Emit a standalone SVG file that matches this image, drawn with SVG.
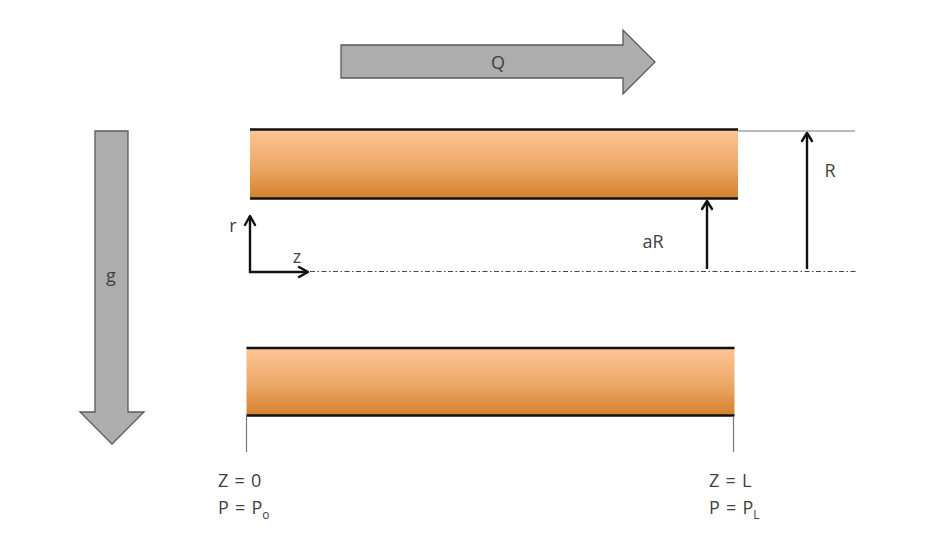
<svg xmlns="http://www.w3.org/2000/svg" width="942" height="548" viewBox="0 0 942 548">
<style>
text{font-family:"Open Sans","Noto Sans","Liberation Sans",sans-serif;font-size:18px;fill:#404040;word-spacing:1.5px}
.sub{font-size:12px}
.block{fill:#adadad;stroke:#595959;stroke-width:1.3}
.pipe{fill:url(#pipeFill)}
.wall{stroke:#111;stroke-width:2.4;fill:none}
.thin{stroke:#777;stroke-width:1.2;fill:none}
.axis{stroke:#111;stroke-width:2.4;fill:none}
.head{stroke:#111;stroke-width:2.4;fill:none;stroke-linejoin:round;stroke-linecap:round}
.center{stroke:#444;stroke-width:1.1;stroke-dasharray:5 2.500 1.500 2.500;fill:none}
</style>
<defs>
<linearGradient id="pipeFill" x1="0" y1="0" x2="0" y2="1">
<stop offset="0" stop-color="#fec596"/>
<stop offset="0.5" stop-color="#eeaa6c"/>
<stop offset="1" stop-color="#d5812b"/>
</linearGradient>
</defs>
<g id="flow-arrow-q">
<polygon class="block" points="341,45 623,45 623,30 655,62 623,94 623,78 341,78"/>
<text x="498" y="69" text-anchor="middle">Q</text>
</g>
<g id="gravity-arrow-g">
<polygon class="block" points="95,131 128,131 128,412 144,412 112,444 80,412 95,412"/>
<text x="111" y="282" text-anchor="middle">g</text>
</g>
<g id="pipe-top">
<rect class="pipe" x="250" y="129" width="488" height="70"/>
<path class="wall" d="M250 129.500H738M250 198.500H738"/>
</g>
<g id="pipe-bottom">
<rect class="pipe" x="246.500" y="348" width="488" height="68"/>
<path class="wall" d="M246.500 348H734.500M246.500 415.500H734.500"/>
</g>
<g id="connectors">
<path class="thin" d="M738 131H855"/>
<path class="thin" d="M246.500 416V452M733.500 416V452"/>
<path class="center" d="M310 271.500H856"/>
<path class="axis" d="M250 216V272H307"/>
<path class="head" d="M245 225L250 216L255 225M299 267L308 272L299 277"/>
<path class="axis" d="M707 269V201"/>
<path class="head" d="M702 209L707 201L712 209"/>
<path class="axis" d="M807 269V133"/>
<path class="head" d="M802 141L807 133L812 141"/>
</g>
<g id="label-r"><text x="233" y="232" text-anchor="middle">r</text></g>
<g id="label-z"><text x="297" y="263" text-anchor="middle">z</text></g>
<g id="label-ar"><text x="653" y="248" text-anchor="middle">aR</text></g>
<g id="label-big-r"><text x="830" y="177" text-anchor="middle">R</text></g>
<g id="label-inlet">
<text x="218" y="487">Z = 0</text>
<text x="218" y="514">P = P<tspan class="sub" dy="5">o</tspan></text>
</g>
<g id="label-outlet">
<text x="709" y="487">Z = L</text>
<text x="709" y="514">P = P<tspan class="sub" dy="5">L</tspan></text>
</g>
</svg>
